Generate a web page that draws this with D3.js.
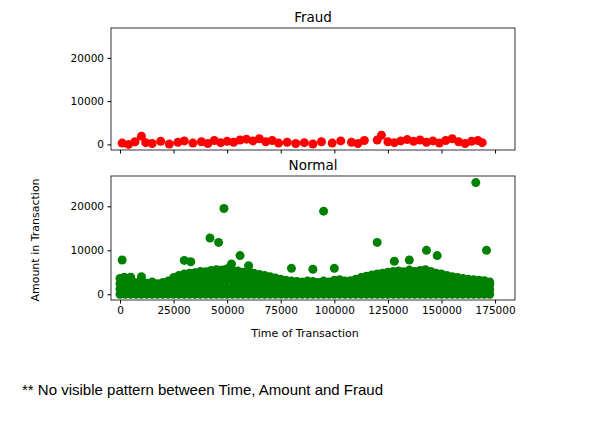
<!DOCTYPE html>
<html><head><meta charset="utf-8">
<script src="https://cdn.jsdelivr.net/npm/d3@7"></script>
<style>body{margin:0;background:#fff}text{font-family:"DejaVu Sans",sans-serif}</style>
</head><body><svg id="c" width="592" height="429"></svg>
<script>
const xTicks=[0,25000,50000,75000,100000,125000,150000,175000];
const yTicks=[0,10000,20000];
const fraudTime=[1000,4000,7000,10000,12000,15000,19000,23000,27000,30000,34000,38000,41000,44000,47000,50000,53000,56000,59000,62000,65000,68000,71000,74000,78000,82000,86000,90000,94000,99000,103000,108000,111000,114000,120000,122000,125000,128000,131000,134000,137000,140000,143000,146000,149000,152000,155000,158000,161000,164000,167000,169000];
const fraudAmount=[300,0,600,1900,400,200,700,100,500,800,300,600,200,900,400,700,500,1000,1200,800,1300,600,900,300,500,200,400,100,600,300,800,500,200,900,1000,2100,600,400,800,1100,700,1000,500,800,300,900,1300,600,200,700,900,400];
const normalCols=[0,2500,5000,7500,10000,12500,15000,17500,20000,22500,25000,27500,30000,32500,35000,37500,40000,42500,45000,47500,50000,52500,55000,57500,60000,62500,65000,67500,70000,72500,75000,77500,80000,82500,85000,87500,90000,92500,95000,97500,100000,102500,105000,107500,110000,112500,115000,117500,120000,122500,125000,127500,130000,132500,135000,137500,140000,142500,145000,147500,150000,152500,155000,157500,160000,162500,165000,167500,170000,172500];
const normalAmounts=[[0,1200,2400,3600],[0,1100,2300,3300],[0,1300,2500,3000],[0,1000,2100,2600],[0,1200,2400,3200],[0,1000,2000,2500],[0,1100,2200,2800],[0,1000,2000,2400],[0,1100,2100,2700],[0,1200,2400,3000],[0,1300,2600,3800],[0,1400,2800,4300],[0,1400,2900,4600],[0,1500,3000,4800],[0,1500,3000,4900],[0,1500,3100,5200],[0,1500,3100,5100],[0,1600,3200,5400],[0,1600,3300,5600],[0,1600,3300,5500],[0,1600,3300,5800],[0,1600,3300,5500],[0,1600,3200,5300],[0,1500,3000,5000],[0,1500,3100,5200],[0,1500,3000,4800],[0,1400,2900,4500],[0,1400,2800,4300],[0,1300,2600,4000],[0,1300,2500,3700],[0,1200,2400,3400],[0,1200,2300,3200],[0,1100,2200,3000],[0,1100,2200,2900],[0,1100,2100,2800],[0,1100,2200,3000],[0,1100,2200,2900],[0,1100,2100,2700],[0,1100,2200,3000],[0,1100,2200,2800],[0,1200,2300,3200],[0,1200,2400,3300],[0,1100,2200,3000],[0,1200,2300,3100],[0,1200,2400,3400],[0,1300,2600,3800],[0,1300,2700,4100],[0,1400,2800,4400],[0,1400,2900,4600],[0,1500,3000,4800],[0,1500,3100,5000],[0,1500,3100,5200],[0,1600,3200,5300],[0,1600,3200,5100],[0,1600,3300,5500],[0,1500,3100,5200],[0,1600,3200,5400],[0,1600,3300,5600],[0,1500,3100,5200],[0,1500,3000,4800],[0,1400,2900,4600],[0,1400,2800,4300],[0,1300,2700,4000],[0,1300,2600,3800],[0,1300,2500,3600],[0,1200,2400,3400],[0,1200,2400,3300],[0,1200,2300,3200],[0,1200,2300,3100],[0,1100,2200,2800]];
const normalMidTime=[1250,3750,8750,13750,18750,23750,26250,28750,31250,33750,36250,38750,41250,43750,46250,48750,51250,53750,56250,58750,61250,63750,66250,68750,71250,73750,78750,83750,88750,93750,98750,103750,108750,113750,116250,118750,121250,123750,126250,128750,131250,133750,136250,138750,141250,143750,146250,148750,151250,153750,156250,158750,163750,168750,171250];
const normalMidAmount=[3000,2700,2400,2300,2200,2600,3300,3700,3900,4100,4300,4400,4300,4600,4500,4900,4700,4600,4400,4300,4300,4000,3800,3600,3300,3000,2700,2600,2600,2600,2700,2800,2900,3300,3600,3900,4100,4200,4400,4500,4600,4700,4500,4700,4800,4500,4300,4100,3900,3700,3400,3200,2900,2700,2500];
const outlierTime=[1000,2000,5000,10000,30000,33000,42000,46000,48500,52000,56000,60000,80000,90000,95000,100000,120000,128000,135000,143000,148000,166000,171000];
const outlierAmount=[7800,3900,3900,4000,7700,7400,12800,11800,19500,6900,8800,6500,5900,5700,18900,5900,11800,7500,7800,10000,8800,25400,10000];

const normalTime=[],normalAmount=[];
normalCols.forEach((t,i)=>normalAmounts[i].forEach(a=>{normalTime.push(t);normalAmount.push(a);}));
normalMidTime.forEach((t,i)=>{normalTime.push(t);normalAmount.push(normalMidAmount[i]);});
outlierTime.forEach((t,i)=>{normalTime.push(t);normalAmount.push(outlierAmount[i]);});

const svg=d3.select("#c");
const x=d3.scaleLinear().domain([-4200,184300]).range([111,515]);
function panel(top,bottom,title,times,amts,color,labels){
  const y=d3.scaleLinear().domain([-1300,26900]).range([bottom,top]);
  const g=svg.append("g");
  g.append("g").selectAll("circle").data(times).join("circle")
    .attr("cx",d=>x(d)).attr("cy",(d,i)=>y(amts[i])).attr("r",4.5).attr("fill",color);
  g.append("rect").attr("x",111).attr("y",top).attr("width",404).attr("height",bottom-top).attr("fill","none").attr("stroke","#000").attr("stroke-width",0.8);
  const ya=g.append("g").attr("transform","translate(111,0)").call(d3.axisLeft(y).tickValues(yTicks).tickSize(3.5).tickPadding(3.5).tickFormat(d3.format("d")));
  const xa=g.append("g").attr("transform",`translate(0,${bottom})`).call(d3.axisBottom(x).tickValues(xTicks).tickSize(3.5).tickPadding(3.5).tickFormat(labels?d3.format("d"):""));
  [ya,xa].forEach(a=>{a.select(".domain").remove();a.selectAll("text").attr("font-size",10.5).attr("font-family","DejaVu Sans").attr("fill","#000");});
  g.append("text").attr("x",313).attr("y",top-6).attr("text-anchor","middle").attr("font-size",13.5).text(title);
}
panel(28,150,"Fraud",fraudTime,fraudAmount,"#ff0000",false);
panel(176,300,"Normal",normalTime,normalAmount,"#008000",true);
svg.append("text").attr("x",305).attr("y",337).attr("text-anchor","middle").attr("font-size",11).text("Time of Transaction");
svg.append("text").attr("transform","translate(39,240) rotate(-90)").attr("text-anchor","middle").attr("font-size",11).text("Amount in Transaction");
svg.append("text").attr("x",22).attr("y",395).attr("font-size",15).style("font-family","Liberation Sans, Arial").text("** No visible pattern between Time, Amount and Fraud");
</script></body></html>
